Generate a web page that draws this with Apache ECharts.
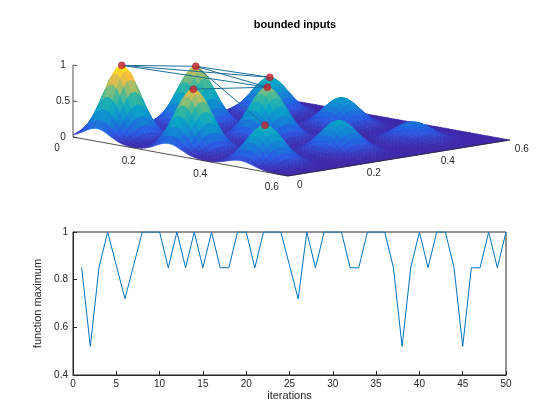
<!DOCTYPE html>
<html>
<head>
<meta charset="utf-8">
<script src="https://cdn.jsdelivr.net/npm/echarts@6/dist/echarts.min.js"></script>
<style>html,body{margin:0;padding:0;background:#fff}#main{width:560px;height:420px}</style>
</head>
<body>
<div id="main"></div>
<script>
// surface: sum of gaussian bumps on a 3x3 grid
var bumpCenters = [0.067, 0.267, 0.467];
var bumpHeights = [[1, 0.82, 0.5], [0.85, 0.71, 0.4], [0.53, 0.43, 0.24]]; // [i along x][j along y]
var bumpSigma = 0.036;
// evaluated points (bump indices i, j) and the lines between them
var evalPoints = [[0, 0], [0, 1], [1, 0], [0, 2], [1, 1], [2, 0]];
var evalEdges = [[0, 1], [0, 3], [0, 4], [1, 3], [1, 4], [1, 5], [2, 4]];
var xTicks3d = [0, 0.2, 0.4, 0.6];
var yTicks3d = [0, 0.2, 0.4, 0.6];
var zTicks3d = [0, 0.5, 1];

// iteration history
var iterations = [1,2,3,4,5,6,7,8,9,10,11,12,13,14,15,16,17,18,19,20,21,22,23,24,25,
  26,27,28,29,30,31,32,33,34,35,36,37,38,39,40,41,42,43,44,45,46,47,48,49,50];
var fmax = [0.85,0.52,0.85,1,0.86,0.72,0.86,1,1,1,0.85,1,0.85,1,0.85,1,0.85,0.85,1,1,
  0.85,1,1,1,0.86,0.72,1,0.85,1,1,1,0.85,0.85,1,1,1,0.85,0.52,0.85,1,
  0.85,1,1,0.85,0.52,0.85,0.85,1,0.85,1];

var N = 60, L = 0.6;
function surf(x, y) {
  var s = 0;
  for (var i = 0; i < 3; i++) for (var j = 0; j < 3; j++) {
    var dx = x - bumpCenters[i], dy = y - bumpCenters[j];
    s += bumpHeights[i][j] * Math.exp(-(dx * dx + dy * dy) / (2 * bumpSigma * bumpSigma));
  }
  return s;
}
function proj(x, y, z) {
  return [73 + 358 * x + 370 * y, 137 + 65 * x - 60 * y - 72 * z];
}
var parula = [[62,38,168],[40,90,230],[20,133,212],[9,166,198],[51,183,160],[165,190,106],[253,189,60],[249,251,14]];
function cmap(t) {
  t = Math.max(0, Math.min(1, t)) * (parula.length - 1);
  var k = Math.min(Math.floor(t), parula.length - 2), f = t - k;
  var a = parula[k], b = parula[k + 1];
  return 'rgb(' + [0, 1, 2].map(function (c) { return Math.round(a[c] + (b[c] - a[c]) * f); }).join(',') + ')';
}

var quads = [];
for (var i = 0; i < N; i++) for (var j = 0; j < N; j++) quads.push([i, j]);
quads.sort(function (a, b) { return (65 * a[0] - 60 * a[1]) - (65 * b[0] - 60 * b[1]); });

function peak(p) {
  var x = bumpCenters[p[0]], y = bumpCenters[p[1]];
  return proj(x, y, bumpHeights[p[0]][p[1]]);
}
var dotData = evalPoints.map(peak);

var labels3d = [];
xTicks3d.forEach(function (v) { var p = proj(v, 0, 0); labels3d.push([p[0] - 16, p[1] + 11, String(v)]); });
yTicks3d.forEach(function (v) { var p = proj(L, v, 0); labels3d.push([p[0] + 12, p[1] + 9, String(v)]); });
zTicks3d.forEach(function (v) { var p = proj(0, 0, v); labels3d.push([p[0] - 10, p[1], String(v)]); });

var axisSegs = [
  [proj(0, 0, 0), proj(0, 0, 1)],
  [proj(0, 0, 0), proj(L, 0, 0)],
  [proj(L, 0, 0), proj(L, L, 0)]
];
zTicks3d.forEach(function (v) { axisSegs.push([proj(0, 0, v), proj(0.012, 0, v)]); });

var chart = echarts.init(document.getElementById('main'));
var txt = '#262626';
chart.setOption({
  animation: false,
  title: { text: 'bounded inputs', left: 290, top: 14, textAlign: 'center',
    textStyle: { fontSize: 11, fontWeight: 'bold', color: '#000', fontFamily: 'Liberation Sans' } },
  grid: [
    { left: 0, top: 0, width: 560, height: 420, show: false },
    { left: 73, right: 54, top: 232, bottom: 45, show: true, borderColor: txt, borderWidth: 1 }
  ],
  xAxis: [
    { gridIndex: 0, type: 'value', min: 0, max: 560, show: false },
    { gridIndex: 1, type: 'value', min: 0, max: 50, interval: 5,
      name: 'iterations', nameLocation: 'middle', nameGap: 15,
      nameTextStyle: { fontSize: 11, color: txt, fontFamily: 'Liberation Sans' },
      axisLine: { lineStyle: { color: txt } }, axisTick: { inside: true, length: 4 },
      splitLine: { show: false },
      axisLabel: { fontSize: 10, color: txt, margin: 4, fontFamily: 'Liberation Sans' } }
  ],
  yAxis: [
    { gridIndex: 0, type: 'value', min: 0, max: 420, inverse: true, show: false },
    { gridIndex: 1, type: 'value', min: 0.4, max: 1, interval: 0.2,
      name: 'function maximum', nameLocation: 'middle', nameGap: 24,
      nameTextStyle: { fontSize: 11, color: txt, fontFamily: 'Liberation Sans' },
      axisLine: { show: true, lineStyle: { color: txt } }, axisTick: { show: true, inside: true, length: 4 },
      splitLine: { show: false },
      axisLabel: { fontSize: 10, color: txt, margin: 5, fontFamily: 'Liberation Sans',
        formatter: function (v) { return +v.toFixed(1) + ''; } } }
  ],
  series: [
    {
      type: 'custom', xAxisIndex: 0, yAxisIndex: 0, clip: false, silent: true,
      data: quads,
      renderItem: function (params, api) {
        var i = api.value(0), j = api.value(1), h = L / N;
        var c = [[i, j], [i + 1, j], [i + 1, j + 1], [i, j + 1]];
        var zs = 0;
        var pts = c.map(function (q) {
          var x = q[0] * h, y = q[1] * h, z = surf(x, y);
          zs += z;
          return api.coord(proj(x, y, z));
        });
        var col = cmap(zs / 4);
        return { type: 'polygon', shape: { points: pts },
          style: { fill: col, stroke: col, lineWidth: 0.6 } };
      }
    },
    {
      type: 'custom', xAxisIndex: 0, yAxisIndex: 0, clip: false, silent: true,
      data: axisSegs.map(function (s) { return [s[0][0], s[0][1], s[1][0], s[1][1]]; }),
      renderItem: function (params, api) {
        var a = api.coord([api.value(0), api.value(1)]), b = api.coord([api.value(2), api.value(3)]);
        return { type: 'line', shape: { x1: a[0], y1: a[1], x2: b[0], y2: b[1] },
          style: { stroke: txt, lineWidth: 0.8 } };
      }
    },
    {
      type: 'custom', xAxisIndex: 0, yAxisIndex: 0, clip: false, silent: true,
      data: evalEdges.map(function (e) { var a = dotData[e[0]], b = dotData[e[1]]; return [a[0], a[1], b[0], b[1]]; }),
      renderItem: function (params, api) {
        var a = api.coord([api.value(0), api.value(1)]), b = api.coord([api.value(2), api.value(3)]);
        return { type: 'line', shape: { x1: a[0], y1: a[1], x2: b[0], y2: b[1] },
          style: { stroke: '#1a6f9a', lineWidth: 1 } };
      }
    },
    {
      type: 'scatter', xAxisIndex: 0, yAxisIndex: 0, silent: true,
      data: dotData, symbolSize: 7,
      itemStyle: { color: '#c8202a', borderColor: '#8a1520', borderWidth: 0.5 }
    },
    {
      type: 'custom', xAxisIndex: 0, yAxisIndex: 0, clip: false, silent: true,
      data: labels3d,
      renderItem: function (params, api) {
        var p = api.coord([api.value(0), api.value(1)]);
        return { type: 'text', x: p[0], y: p[1],
          style: { text: labels3d[params.dataIndex][2], fill: txt, fontSize: 10,
            fontFamily: 'Liberation Sans', align: 'center', verticalAlign: 'middle' } };
      }
    },
    {
      type: 'line', xAxisIndex: 1, yAxisIndex: 1, showSymbol: false,
      data: iterations.map(function (x, k) { return [x, fmax[k]]; }),
      lineStyle: { color: '#0072BD', width: 1 }
    }
  ]
});
</script>
</body>
</html>
